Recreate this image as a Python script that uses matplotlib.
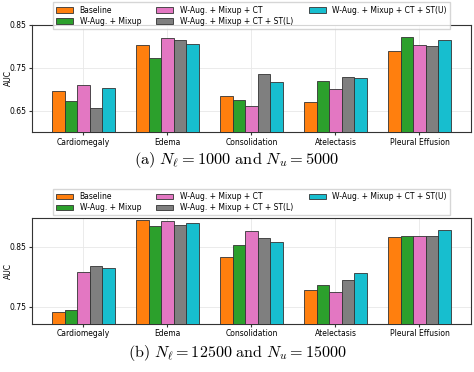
import numpy as np
import matplotlib.pyplot as plt

# categories and method names
categories = ["Cardiomegaly", "Edema", "Consolidation", "Atelectasis", "Pleural Effusion"]
methods = ["Baseline", "W-Aug. + Mixup", "W-Aug. + Mixup + CT",
           "W-Aug. + Mixup + CT + ST(L)", "W-Aug. + Mixup + CT + ST(U)"]
colors = ["#ff7f0e", "#2ca02c", "#e377c2", "#7f7f7f", "#17becf"]

# (a) N_l = 1000, N_u = 5000
auc_a = {
    "Baseline":                    [0.695, 0.803, 0.685, 0.670, 0.788],
    "W-Aug. + Mixup":              [0.673, 0.772, 0.675, 0.718, 0.821],
    "W-Aug. + Mixup + CT":         [0.709, 0.819, 0.660, 0.700, 0.804],
    "W-Aug. + Mixup + CT + ST(L)": [0.656, 0.815, 0.735, 0.728, 0.801],
    "W-Aug. + Mixup + CT + ST(U)": [0.703, 0.806, 0.716, 0.726, 0.814],
}
# (b) N_l = 12500, N_u = 15000
auc_b = {
    "Baseline":                    [0.742, 0.895, 0.834, 0.778, 0.867],
    "W-Aug. + Mixup":              [0.745, 0.885, 0.853, 0.787, 0.869],
    "W-Aug. + Mixup + CT":         [0.809, 0.893, 0.876, 0.774, 0.868],
    "W-Aug. + Mixup + CT + ST(L)": [0.819, 0.886, 0.865, 0.795, 0.869],
    "W-Aug. + Mixup + CT + ST(U)": [0.815, 0.890, 0.859, 0.806, 0.878],
}
yticks_a = [0.65, 0.75, 0.85]
yticks_b = [0.75, 0.85]

plt.rcParams["mathtext.fontset"] = "cm"

fig = plt.figure(figsize=(4.74, 3.72), dpi=100)
ax1 = fig.add_axes([0.0675, 0.645, 0.926, 0.288])
ax2 = fig.add_axes([0.0675, 0.130, 0.926, 0.285])

x = np.arange(len(categories))
w = 0.15
fs = 5.5


def draw(ax, data, yticks, ylim, leg_y):
    for i, m in enumerate(methods):
        ax.bar(x + (i - 2) * w, data[m], w, color=colors[i], label=m,
               edgecolor="#333333", linewidth=0.6, zorder=3)
    ax.set_xticks(x)
    ax.set_xticklabels(categories, fontsize=fs)
    ax.set_yticks(yticks)
    ax.set_yticklabels([f"{t:.2f}" for t in yticks], fontsize=fs)
    ax.set_ylim(*ylim)
    ax.set_ylabel("AUC", fontsize=fs)
    ax.yaxis.set_label_coords(-0.043, 0.5)
    ax.tick_params(length=2, pad=2, color="#333333")
    ax.grid(True, color="#e8e8e8", linewidth=0.6, zorder=0)
    for s in ax.spines.values():
        s.set_color("#333333")
        s.set_linewidth(0.8)
    ax.legend(loc="lower center", bbox_to_anchor=(0.5, leg_y), ncol=3,
              fontsize=fs, frameon=True, fancybox=False, edgecolor="#cccccc",
              columnspacing=2.0, handlelength=2.2, borderpad=0.4,
              labelspacing=0.3, handletextpad=0.9, borderaxespad=0)


draw(ax1, auc_a, yticks_a, (0.60, 0.85), 0.963)
draw(ax2, auc_b, yticks_b, (0.722, 0.899), 1.02)

fig.text(0.5, 0.570, r"$\mathrm{(a)}\ N_\ell = 1000\ \mathrm{and}\ N_u = 5000$",
         ha="center", va="center", fontsize=11.8)
fig.text(0.5, 0.052, r"$\mathrm{(b)}\ N_\ell = 12500\ \mathrm{and}\ N_u = 15000$",
         ha="center", va="center", fontsize=11.6)

fig.savefig("out.png", dpi=100)
